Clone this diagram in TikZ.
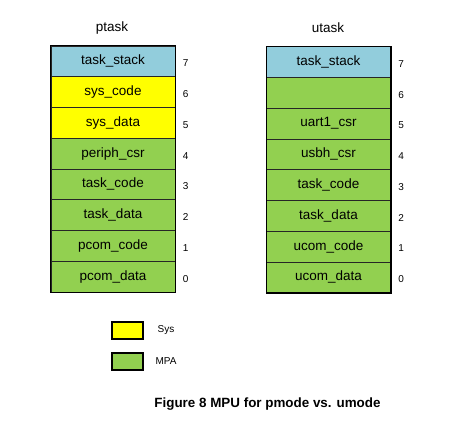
\documentclass[tikz,border=0pt]{standalone}
\usepackage{fontspec}
\setmainfont{Liberation Sans}
\usetikzlibrary{positioning}
\definecolor{stackblue}{RGB}{146,205,220}
\definecolor{sysyellow}{RGB}{255,255,0}
\definecolor{mpagreen}{RGB}{146,208,80}

\begin{document}
\begin{tikzpicture}[x=1pt,y=-1pt,
    cell/.style={draw=black!85,line width=0.7pt,minimum width=124pt,minimum height=30.75pt,
        inner sep=0pt,font=\fontsize{13.5}{15}\selectfont},
    regnum/.style={font=\fontsize{10}{12}\selectfont,yshift=-2pt},
    title/.style={font=\fontsize{13.5}{15}\selectfont},
    keybox/.style={draw=black,line width=1.2pt,minimum width=31pt,minimum height=17pt,inner sep=0pt},
    keytext/.style={font=\fontsize{10}{12}\selectfont}]
    \useasboundingbox (0,0) rectangle (474,439);

    % ptask regions
    \node[title] (ptitle) at (112,28) {ptask};
    \foreach \i/\txt/\col in {7/task\_stack/stackblue, 6/sys\_code/sysyellow,
        5/sys\_data/sysyellow, 4/periph\_csr/mpagreen, 3/task\_code/mpagreen,
        2/task\_data/mpagreen, 1/pcom\_code/mpagreen, 0/pcom\_data/mpagreen} {
        \node[cell,fill=\col] (p\i) at (113,{61.4+(7-\i)*30.75}) {\txt};
        \node[regnum,right=4pt of p\i] (pn\i) {\i};
    }
    \draw[line width=1.3pt] (p7.north west) rectangle (p0.south east);

    % utask regions
    \node[title] (utitle) at (328,28) {utask};
    \foreach \i/\txt/\col in {7/task\_stack/stackblue, 6/{}/mpagreen,
        5/uart1\_csr/mpagreen, 4/usbh\_csr/mpagreen, 3/task\_code/mpagreen,
        2/task\_data/mpagreen, 1/ucom\_code/mpagreen, 0/ucom\_data/mpagreen} {
        \node[cell,fill=\col] (u\i) at (328.5,{62+(7-\i)*30.75}) {\txt};
        \node[regnum,right=4pt of u\i] (un\i) {\i};
    }
    \draw[line width=1.3pt] (u7.north west) rectangle (u0.south east);

    % legend
    \node[keybox,fill=sysyellow] (syskey) at (127.5,330.5) {};
    \node[keytext] (syslabel) at (166,330) {Sys};
    \node[keybox,fill=mpagreen] (mpakey) at (127.5,361.5) {};
    \node[keytext] (mpalabel) at (166,361) {MPA};

    % caption
    \node[font=\fontsize{13.4}{15}\selectfont\bfseries] (caption) at (267.5,404)
        {Figure 8 MPU for pmode vs. umode};
\end{tikzpicture}
\end{document}
